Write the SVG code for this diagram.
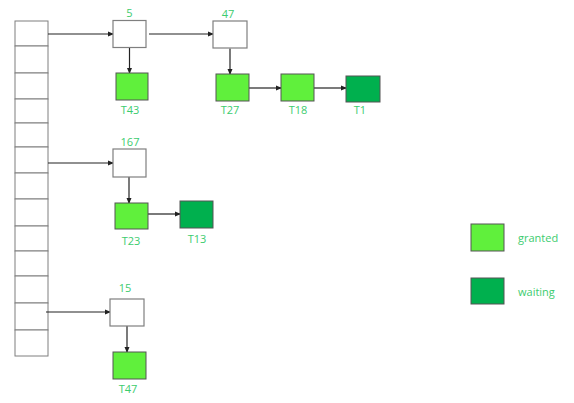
<svg xmlns="http://www.w3.org/2000/svg" width="574" height="403" viewBox="0 0 574 403">
<style>
.cell{fill:#fff;stroke:#7f7f7f;stroke-width:1}
.node{fill:#fff;stroke:#7f7f7f;stroke-width:1.2}
.g{fill:#60f03c;stroke:#555;stroke-width:1}
.w{fill:#00b04e;stroke:#555;stroke-width:1}
.lbl{font-family:"Open Sans","Liberation Sans",sans-serif;font-size:11px;fill:#3ccc6e;text-anchor:middle}
.leg{font-family:"Open Sans","Liberation Sans",sans-serif;font-size:11px;fill:#3ccc6e}
.c{stroke:#222;stroke-width:1.2;fill:none;marker-end:url(#ah)}
</style>
<defs>
<marker id="ah" markerWidth="6" markerHeight="6" refX="5" refY="3" orient="auto" markerUnits="userSpaceOnUse">
<path d="M0,0.5 L6,3 L0,5.5 z" fill="#222"/>
</marker>
</defs>
<rect width="574" height="403" fill="#fff"/>
<g id="table">
<rect class="cell" x="15" y="21" width="33" height="25"/>
<rect class="cell" x="15" y="46" width="33" height="27"/>
<rect class="cell" x="15" y="73" width="33" height="26"/>
<rect class="cell" x="15" y="99" width="33" height="24"/>
<rect class="cell" x="15" y="123" width="33" height="24"/>
<rect class="cell" x="15" y="147" width="33" height="26"/>
<rect class="cell" x="15" y="173" width="33" height="26"/>
<rect class="cell" x="15" y="199" width="33" height="27"/>
<rect class="cell" x="15" y="226" width="33" height="25"/>
<rect class="cell" x="15" y="251" width="33" height="25"/>
<rect class="cell" x="15" y="276" width="33" height="27"/>
<rect class="cell" x="15" y="303" width="33" height="27"/>
<rect class="cell" x="15" y="330" width="33" height="26"/>
</g>
<g id="connectors">
<line class="c" x1="48" y1="34" x2="113" y2="34"/>
<line class="c" x1="149" y1="34" x2="213" y2="34"/>
<line class="c" x1="129.5" y1="47.5" x2="129.5" y2="73"/>
<line class="c" x1="230" y1="48.5" x2="230" y2="74"/>
<line class="c" x1="249" y1="88" x2="281" y2="88"/>
<line class="c" x1="314" y1="88" x2="346" y2="88"/>
<line class="c" x1="48" y1="163" x2="113" y2="163"/>
<line class="c" x1="129" y1="177" x2="129" y2="203"/>
<line class="c" x1="148" y1="214" x2="180" y2="214"/>
<line class="c" x1="46" y1="312" x2="110" y2="312"/>
<line class="c" x1="127" y1="326" x2="127" y2="352"/>
</g>
<g id="n5"><rect class="node" x="113" y="20.5" width="33" height="27"/><text class="lbl" x="129.5" y="17">5</text></g>
<g id="n47"><rect class="node" x="213" y="21" width="34" height="27"/><text class="lbl" x="228" y="18">47</text></g>
<g id="T43"><rect class="g" x="116" y="73" width="32" height="27"/><text class="lbl" x="130" y="114">T43</text></g>
<g id="T27"><rect class="g" x="216" y="74" width="33" height="27"/><text class="lbl" x="230" y="114">T27</text></g>
<g id="T18"><rect class="g" x="281" y="74" width="33" height="27"/><text class="lbl" x="298" y="114">T18</text></g>
<g id="T1"><rect class="w" x="346" y="76" width="34" height="26"/><text class="lbl" x="360" y="114">T1</text></g>
<g id="n167"><rect class="node" x="113" y="149" width="33" height="28"/><text class="lbl" x="130" y="146">167</text></g>
<g id="T23"><rect class="g" x="115" y="203" width="33" height="26"/><text class="lbl" x="131" y="245">T23</text></g>
<g id="T13"><rect class="w" x="180" y="201" width="33" height="27"/><text class="lbl" x="197" y="243">T13</text></g>
<g id="n15"><rect class="node" x="110" y="299" width="34" height="27"/><text class="lbl" x="125" y="292">15</text></g>
<g id="T47"><rect class="g" x="113" y="352" width="33" height="27"/><text class="lbl" x="128" y="393">T47</text></g>
<g id="legend-granted"><rect class="g" x="471" y="224" width="33" height="27"/><text class="leg" x="518" y="242">granted</text></g>
<g id="legend-waiting"><rect class="w" x="471" y="278" width="33" height="26"/><text class="leg" x="518" y="296">waiting</text></g>
</svg>
